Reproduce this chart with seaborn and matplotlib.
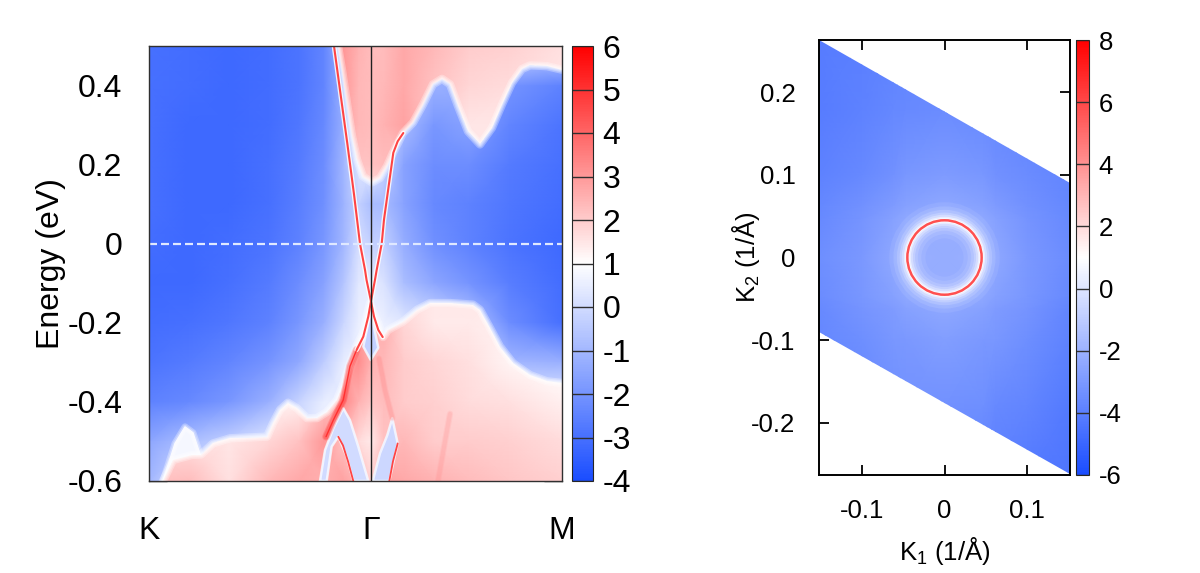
import numpy as np
import matplotlib
matplotlib.use("Agg")
import matplotlib.pyplot as plt
from matplotlib.cm import ScalarMappable
from matplotlib.colors import LinearSegmentedColormap, Normalize
from matplotlib.patches import Circle, Polygon
import seaborn as sns

sns.set_style("ticks")
plt.rcParams['font.family'] = ['Liberation Sans', 'DejaVu Sans']
plt.rcParams['mathtext.default'] = 'regular'
plt.rcParams['text.color'] = 'black'
plt.rcParams['axes.labelcolor'] = 'black'
plt.rcParams['xtick.labelcolor'] = 'black'
plt.rcParams['ytick.labelcolor'] = 'black'

# left panel: path coordinate along K - Gamma - M
k_nodes = [0, 40, 80, 120, 150, 175, 195, 210, 222, 235, 255, 285, 320, 360, 413]
e_nodes = [0.5, 0.4, 0.3, 0.2, 0.1, 0, -0.1, -0.2, -0.3, -0.4, -0.5, -0.6]
path_ticks = [0, 222, 413]
path_labels = ['K', 'Γ', 'M']
energy_ticks = [0.4, 0.2, 0, -0.2, -0.4, -0.6]
energy_labels = ['0.4', '0.2', '0', '-0.2', '-0.4', '-0.6']
cbar1_ticks = [-4, -3, -2, -1, 0, 1, 2, 3, 4, 5, 6]

blue_field = [
    [-3.0, -3.1, -3.2, -3.1, -2.9, -2.4, -1.0, 0.0, 0.0, 0.0, 0.0, 0.0, 0.0, 0.0, 0.0],
    [-3.0, -3.1, -3.2, -3.1, -2.9, -2.4, -1.2, 0.0, 0.5, 0.5, 0.0, -1.2, -1.4, -2.0, -2.5],
    [-3.0, -3.2, -3.2, -3.1, -2.8, -2.3, -1.2, 0.2, 0.5, 0.2, -0.9, -1.9, -1.6, -2.4, -2.9],
    [-3.0, -3.2, -3.2, -3.0, -2.7, -2.2, -1.0, 0.3, 0.5, -0.2, -1.6, -2.2, -2.2, -2.7, -3.0],
    [-3.0, -3.2, -3.2, -3.0, -2.6, -2.1, -1.1, -0.3, -0.8, -0.9, -1.6, -2.3, -2.5, -2.8, -3.1],
    [-3.1, -3.2, -3.1, -2.9, -2.5, -1.9, -1.0, 0.1, -0.3, -0.3, -1.3, -2.1, -2.5, -2.9, -3.2],
    [-3.2, -3.2, -3.0, -2.7, -2.2, -1.6, -0.6, 0.4, 0.5, 0.2, -0.8, -1.5, -2.0, -2.6, -3.1],
    [-3.1, -3.0, -2.8, -2.5, -1.9, -1.2, -0.1, 0.6, 0.6, 0.6, 0.3, 0.0, -0.6, -2.2, -3.0],
    [-2.9, -2.7, -2.4, -2.0, -1.4, -0.4, 0.5, 0.6, 0.6, 0.6, 0.6, 0.6, 0.5, -1.0, -1.2],
    [-2.5, -2.3, -1.9, -1.2, -0.2, 0.5, 0.6, 0.6, 0.6, 0.6, 0.6, 0.6, 0.6, 0.6, 0.6],
    [-1.5, -0.8, -0.3, 0.3, 0.6, 0.6, 0.6, 0.6, 0.6, 0.6, 0.6, 0.6, 0.6, 0.6, 0.6],
    [-1.0, 0.4, 0.6, 0.6, 0.6, 0.6, 0.6, 0.6, 0.6, 0.6, 0.6, 0.6, 0.6, 0.6, 0.6],
]

red_field = [
    [1.5, 1.5, 1.5, 1.5, 1.5, 2.0, 3.0, 2.5, 2.3, 2.3, 2.7, 2.4, 2.0, 1.9, 1.6],
    [1.5, 1.5, 1.5, 1.5, 1.5, 2.0, 3.0, 2.4, 2.3, 2.4, 2.7, 2.2, 1.8, 1.7, 1.5],
    [1.5, 1.5, 1.5, 1.5, 1.5, 2.0, 2.8, 2.4, 2.3, 2.5, 2.8, 1.9, 1.5, 1.5, 1.5],
    [1.5, 1.5, 1.5, 1.5, 1.5, 2.0, 2.4, 2.2, 2.2, 2.3, 2.0, 1.5, 1.5, 1.5, 1.5],
    [1.5, 1.5, 1.5, 1.5, 1.5, 1.5, 1.5, 1.5, 1.5, 1.5, 1.5, 1.5, 1.5, 1.5, 1.5],
    [1.5, 1.5, 1.5, 1.5, 1.5, 1.5, 1.5, 1.5, 1.5, 1.5, 1.5, 1.5, 1.5, 1.5, 1.5],
    [1.5, 1.5, 1.5, 1.5, 1.5, 1.5, 1.5, 1.5, 1.5, 1.5, 1.5, 1.5, 1.5, 1.5, 1.5],
    [1.5, 1.5, 1.5, 1.5, 1.5, 1.8, 2.4, 3.0, 2.4, 2.6, 1.8, 1.4, 1.4, 1.3, 1.2],
    [1.5, 1.5, 1.5, 1.5, 1.6, 2.0, 2.6, 3.2, 2.5, 2.4, 2.0, 1.8, 1.6, 1.2, 1.0],
    [1.2, 1.2, 1.2, 1.2, 1.3, 2.2, 3.3, 2.5, 2.1, 2.3, 2.0, 1.9, 1.7, 1.6, 1.3],
    [1.6, 1.6, 1.5, 1.8, 2.2, 3.0, 2.2, 1.7, 1.4, 2.2, 2.4, 2.0, 2.0, 1.9, 1.7],
    [2.2, 2.3, 1.6, 2.4, 2.7, 2.6, 2.8, 2.4, 1.9, 2.8, 2.7, 2.5, 2.3, 2.1, 1.9],
]

# edge of the conduction-side red region, read from left to right around its tip
upper_edge_k = [187, 189, 193, 198, 203, 208, 214, 223, 231, 238, 244, 254, 264, 274, 284, 293, 301, 309,
                319, 331, 343, 353, 363, 373, 381, 398, 413]
upper_edge_e = [0.5, 0.5, 0.44, 0.356, 0.272, 0.213, 0.17, 0.155, 0.166, 0.196, 0.23, 0.28, 0.306, 0.352,
                0.403, 0.417, 0.403, 0.348, 0.284, 0.251, 0.293, 0.352, 0.407, 0.442, 0.451, 0.449, 0.44]

# top edge of the valence-side red region
lower_edge_k = [14, 24, 43, 52, 64, 81, 98, 118, 124, 131, 139, 148, 158, 168, 178, 188, 194, 201, 208, 214,
                221, 229, 234, 239, 254, 268, 281, 301, 324, 331, 341, 351, 364, 381, 398, 413]
lower_edge_e = [-0.6, -0.547, -0.534, -0.533, -0.505, -0.492, -0.49, -0.488, -0.454, -0.42, -0.402, -0.416,
                -0.441, -0.441, -0.425, -0.395, -0.357, -0.302, -0.256, -0.226, -0.15, -0.2, -0.236, -0.218,
                -0.197, -0.167, -0.15, -0.15, -0.154, -0.167, -0.213, -0.26, -0.302, -0.332, -0.348, -0.352]

hump_k = [14, 26, 36, 44, 52]
hump_e = [-0.6, -0.505, -0.463, -0.478, -0.54]

diamond_k = [221.7, 214.3, 221.7, 229.3]
diamond_e = [-0.17, -0.26, -0.294, -0.263]

left_wedge_k = [171, 176, 184.3, 194.3, 201, 209.3, 219.3, 204.3, 197.7, 189.3, 182.7, 177.7]
left_wedge_e = [-0.6, -0.522, -0.467, -0.416, -0.446, -0.513, -0.6, -0.6, -0.538, -0.488, -0.513, -0.6]

right_wedge_k = [223.7, 231, 238.3, 243.3, 248.7, 240.3]
right_wedge_e = [-0.6, -0.53, -0.484, -0.441, -0.505, -0.6]

# bands
band_a_k = [185, 192, 198.5, 205, 211, 216, 217.5, 221.7, 225, 229.3, 233.7]
band_a_e = [0.5, 0.37, 0.25, 0.125, 0, -0.066, -0.091, -0.142, -0.184, -0.218, -0.236]
band_b_k = [254.3, 248.7, 244.3, 241, 237.7, 235, 232.7, 227.7, 226, 222, 219.3, 214.3, 207.7]
band_b_e = [0.28, 0.259, 0.23, 0.17, 0.11, 0.061, 0, -0.066, -0.091, -0.145, -0.184, -0.235, -0.268]
ridge_k = [207.7, 201, 194.3, 184.3, 177]
ridge_e = [-0.268, -0.31, -0.395, -0.446, -0.488]
arch_k = [189.3, 194, 199, 204.3]
arch_e = [-0.488, -0.51, -0.55, -0.6]
right_arch_k = [248.7, 244, 240.3]
right_arch_e = [-0.505, -0.55, -0.6]
soft_ridge_k = [230, 236, 243.3]
soft_ridge_e = [-0.29, -0.37, -0.441]
faint_ridge_k = [301, 296, 289]
faint_ridge_e = [-0.43, -0.5, -0.6]

fermi_level = [0, 0]
fermi_k = [0, 413]

# right panel: constant energy cut
k1_nodes = [-0.152, -0.1, -0.062, -0.047, 0, 0.047, 0.062, 0.1, 0.152]
k2_nodes = [0.263, 0.18, 0.1, 0.062, 0.047, 0, -0.047, -0.062, -0.1, -0.18, -0.263]
k1_ticks = [-0.1, 0, 0.1]
k1_labels = ['-0.1', '0', '0.1']
k2_ticks = [0.2, 0.1, 0, -0.1, -0.2]
k2_labels = ['0.2', '0.1', '0', '-0.1', '-0.2']
cbar2_ticks = [-6, -4, -2, 0, 2, 4, 6, 8]
zone_k1 = [-0.152, 0.152, 0.152, -0.152]
zone_k2 = [0.263, 0.09, -0.262, -0.09]
ring_radius = 0.045

cut_field = [
    [-4.1, -4.0, -3.9, -3.8, -3.8, -3.8, -3.8, -3.9, -4.0],
    [-4.1, -3.9, -3.7, -3.6, -3.5, -3.6, -3.7, -3.8, -4.0],
    [-3.9, -3.6, -3.3, -3.1, -2.9, -3.1, -3.3, -3.5, -3.8],
    [-3.7, -3.3, -2.9, -2.7, -2.4, -2.7, -2.9, -3.3, -3.7],
    [-3.6, -3.2, -2.7, -2.4, -2.1, -2.4, -2.7, -3.2, -3.6],
    [-3.4, -3.0, -2.4, -2.1, -2.2, -2.1, -2.4, -3.0, -3.5],
    [-3.5, -3.1, -2.7, -2.4, -2.1, -2.4, -2.7, -3.1, -3.6],
    [-3.6, -3.2, -2.9, -2.7, -2.4, -2.7, -2.9, -3.2, -3.8],
    [-3.7, -3.4, -3.1, -3.0, -2.8, -3.0, -3.1, -3.4, -3.9],
    [-3.9, -3.7, -3.4, -3.3, -3.3, -3.4, -3.6, -3.8, -4.2],
    [-4.1, -4.0, -3.9, -3.8, -3.8, -3.9, -4.0, -4.2, -4.4],
]

cmap = LinearSegmentedColormap.from_list('bwr_band', ['#1a4dff', '#ffffff', '#ff0000'])
norm1 = Normalize(-4, 6)
norm2 = Normalize(-6, 8)
frame_col = '#303030'


def soft_edge(ax, xs, ys, widths=(6, 4, 2.4, 1.2), alpha=0.3, closed=False, order=3):
    # white glow around region edges
    if closed:
        xs = list(xs) + [xs[0]]
        ys = list(ys) + [ys[0]]
    for w in widths:
        ax.plot(xs, ys, color='white', lw=w, alpha=alpha, solid_capstyle='round', zorder=order)


def draw_band(ax, xs, ys, width=1.5, color='#ff4444', halo=3.4, order=5, alpha=1.0):
    df = {'k': xs, 'e': ys}
    if halo:
        sns.lineplot(data=df, x='k', y='e', ax=ax, sort=False, estimator=None, color='white',
                     lw=halo, alpha=0.85, zorder=order)
    sns.lineplot(data=df, x='k', y='e', ax=ax, sort=False, estimator=None, color=color,
                 lw=width, alpha=alpha, zorder=order + 1)


def add_cbar(fig, rect, norm, ticks, size):
    cax = fig.add_axes(rect)
    fig.colorbar(ScalarMappable(norm=norm, cmap=cmap), cax=cax, ticks=ticks)
    cax.hlines(ticks, *cax.get_xlim(), color=frame_col, lw=1)
    cax.tick_params(length=0, labelsize=size, pad=7)
    cax.set_yticklabels([str(t) for t in ticks])
    return cax


fig = plt.figure(figsize=(12, 5.73), dpi=100)

# --- band structure ---
ax = fig.add_axes([149 / 1200, 1 - 481 / 573, 413 / 1200, 435 / 573])
ax.pcolormesh(k_nodes, e_nodes, blue_field, cmap=cmap, norm=norm1, shading='gouraud', zorder=1)

ax.fill(hump_k, hump_e, color=cmap(norm1(0.8)), zorder=1.5)
soft_edge(ax, hump_k, hump_e, widths=(5, 3), order=1.6)

upper_poly = Polygon(list(zip(upper_edge_k + [413, 187], upper_edge_e + [0.5, 0.5])), transform=ax.transData)
lower_poly = Polygon(list(zip(lower_edge_k + [413, 14], lower_edge_e + [-0.6, -0.6])), transform=ax.transData)
for poly in (upper_poly, lower_poly):
    mesh = ax.pcolormesh(k_nodes, e_nodes, red_field, cmap=cmap, norm=norm1, shading='gouraud', zorder=2)
    mesh.set_clip_path(poly)

soft_edge(ax, upper_edge_k, upper_edge_e)
soft_edge(ax, lower_edge_k, lower_edge_e)

for xs, ys, val in ((diamond_k, diamond_e, -0.3), (left_wedge_k, left_wedge_e, 0.0), (right_wedge_k, right_wedge_e, -0.1)):
    ax.fill(xs, ys, color=cmap(norm1(val)), zorder=3.5)
    ax.plot(list(xs) + [xs[0]], list(ys) + [ys[0]], color='white', lw=1.8, alpha=0.7, zorder=3.6)

for w, a in ((4.5, 0.14), (3, 0.2)):
    draw_band(ax, soft_ridge_k, soft_ridge_e, width=w, color='#ff8080', halo=0, order=3.2, alpha=a)
    draw_band(ax, faint_ridge_k, faint_ridge_e, width=w, color='#ff9090', halo=0, order=3.2, alpha=a)
    draw_band(ax, ridge_k, ridge_e, width=w + 1, color='#ff3030', halo=0, order=4, alpha=a + 0.1)
draw_band(ax, ridge_k, ridge_e, width=1.0, color='#ff3030', halo=0, order=4.2)
draw_band(ax, arch_k, arch_e, width=1.3, halo=0)
draw_band(ax, right_arch_k, right_arch_e, width=1.3, halo=0)
draw_band(ax, band_a_k, band_a_e)
draw_band(ax, band_b_k, band_b_e)

ax.axvline(222, color='#202020', lw=1, zorder=7)
ax.plot(fermi_k, fermi_level, color='#dfe8ff', lw=1.6, ls=(0, (3.6, 1.8)), zorder=8)

ax.set_xlim(0, 413)
ax.set_ylim(-0.6, 0.5)
ax.set_xticks(path_ticks)
ax.set_xticklabels(path_labels)
ax.set_yticks(energy_ticks)
ax.set_yticklabels(energy_labels)
ax.set_xlabel('')
ax.set_ylabel('Energy (eV)', fontsize=23, labelpad=1)
ax.tick_params(axis='y', direction='in', length=13, width=1, color=frame_col, left=True, right=True,
               labelsize=23, pad=19)
ax.tick_params(axis='x', length=0, labelsize=23, pad=25)
for s in ax.spines.values():
    s.set_visible(True)
    s.set_color(frame_col)
    s.set_linewidth(1)
    s.set_zorder(9)

add_cbar(fig, [572 / 1200, 1 - 481 / 573, 21 / 1200, 435 / 573], norm1, cbar1_ticks, 23)

# --- constant energy cut ---
ax2 = fig.add_axes([819 / 1200, 1 - 475 / 573, 251 / 1200, 435 / 573])
zone = Polygon(list(zip(zone_k1, zone_k2)), transform=ax2.transData)
cut = ax2.pcolormesh(k1_nodes, k2_nodes, cut_field, cmap=cmap, norm=norm2, shading='gouraud', zorder=1)
cut.set_clip_path(zone)

for w, a in ((26, 0.07), (20, 0.1), (15, 0.14), (11, 0.2), (8, 0.3), (5, 0.5), (3, 0.8)):
    ax2.add_patch(Circle((0, 0), ring_radius, fill=False, ec='white', lw=w, alpha=a, zorder=2))
ax2.add_patch(Circle((0, 0), ring_radius, fill=False, ec='#ff5050', lw=1.8, zorder=3))

ax2.set_xlim(-0.152, 0.152)
ax2.set_ylim(-0.263, 0.263)
ax2.set_xticks(k1_ticks)
ax2.set_xticklabels(k1_labels)
ax2.set_yticks(k2_ticks)
ax2.set_yticklabels(k2_labels)
ax2.set_xlabel('K$_1$ (1/Å)', fontsize=18.5, labelpad=9)
ax2.set_ylabel('K$_2$ (1/Å)', fontsize=18.5, labelpad=-8)
ax2.tick_params(direction='in', length=7, width=1.3, color='black', top=True, right=True, labelsize=18.5, pad=17)
for s in ax2.spines.values():
    s.set_visible(True)
    s.set_color('black')
    s.set_linewidth(1.4)

add_cbar(fig, [1076 / 1200, 1 - 475 / 573, 13 / 1200, 435 / 573], norm2, cbar2_ticks, 18.5)

fig.savefig('out.png', dpi=100)
